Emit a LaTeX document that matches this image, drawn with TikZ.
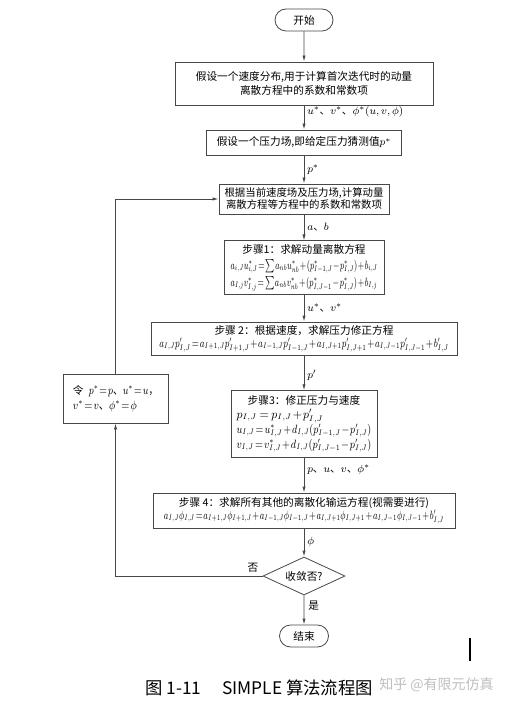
\documentclass[tikz,border=0pt]{standalone}
\usepackage{fontspec}
\newfontfamily\cjk{Noto Sans CJK SC}
\usetikzlibrary{shapes.geometric,shapes.misc,arrows.meta}
\newcommand\zh{\cjk\fontsize{8}{10}\selectfont}
\newcommand\eqn[2]{\resizebox{#1}{\height}{\fontsize{9}{10}\selectfont$\medmuskip=1.5mu\thickmuskip=2mu\thinmuskip=1mu #2$}}
\begin{document}
\begin{tikzpicture}[x=0.75pt,y=-0.75pt,
  ln/.style={draw=black!72,line width=0.6pt},
  arr/.style={ln,-{Latex[length=4.5pt,width=2.4pt]}},
  box/.style={ln,rectangle,inner sep=0pt,align=center,font=\zh},
  pill/.style={ln,rounded rectangle,inner sep=0pt,font=\zh,minimum height=16.5pt},
  lbl/.style={anchor=west,inner sep=0pt,font=\zh}]
\path[use as bounding box,fill=white] (0,0) rectangle (521,705);

\node[pill,minimum width=43.5pt] (start) at (304,20) {开始};
\node[box,minimum width=193.5pt,minimum height=32.25pt] (b1) at (304,83.5)
  {假设一个速度分布,用于计算首次迭代时的动量\\离散方程中的系数和常数项};
\node[box,minimum width=146.25pt,minimum height=18.75pt] (b2) at (304,142.5)
  {假设一个压力场,即给定压力猜测值$p^*$};
\node[box,minimum width=127.5pt,minimum height=22.5pt,font=\cjk\fontsize{7.8}{9}\selectfont] (b3) at (304,199)
  {根据当前速度场及压力场,计算动量\\离散方程等方程中的系数和常数项};
\node[box,minimum width=120pt,minimum height=40pt] (s1) at (304,267.5)
  {步骤1：求解动量离散方程\\[2pt]
   \eqn{110pt}{a_{i,J}u^*_{i,J}=\textstyle\sum a_{nb}u^*_{nb}+(p^*_{I-1,J}-p^*_{I,J})+b_{i,J}}\\[1.5pt]
   \eqn{110pt}{a_{I,j}v^*_{I,j}=\textstyle\sum a_{nb}v^*_{nb}+(p^*_{I,J-1}-p^*_{I,J})+b_{I,j}}};
\node[box,minimum width=229.5pt,minimum height=24.75pt] (s2) at (304,338.5)
  {步骤 2：根据速度，求解压力修正方程\\[0pt]
   \eqn{217pt}{a_{I,J}p'_{I,J}=a_{I+1,J}p'_{I+1,J}+a_{I-1,J}p'_{I-1,J}+a_{I,J+1}p'_{I,J+1}+a_{I,J-1}p'_{I,J-1}+b'_{I,J}}};
\node[box,minimum width=109.5pt,minimum height=50pt] (s3) at (304,424)
  {\begin{tabular}{@{}l@{}}\multicolumn{1}{@{}c@{}}{步骤3：修正压力与速度}\\
   \eqn{65pt}{p_{I,J}\;=\;p_{I,J}+p'_{I,J}}\\[1pt]
   \eqn{101pt}{u_{I,J}=u^*_{I,J}+d_{I,J}(p'_{I-1,J}-p'_{I,J})}\\[1pt]
   \eqn{101pt}{v_{I,J}=v^*_{I,J}+d_{I,J}(p'_{I,J-1}-p'_{I,J})}\end{tabular}};
\node[box,minimum width=226.5pt,minimum height=26.25pt] (s4) at (304,510.5)
  {步骤 4：求解所有其他的离散化输运方程(视需要进行)\\[0pt]
   \eqn{210pt}{a_{I,J}\phi_{I,J}=a_{I+1,J}\phi_{I+1,J}+a_{I-1,J}\phi_{I-1,J}+a_{I,J+1}\phi_{I,J+1}+a_{I,J-1}\phi_{I,J-1}+b'_{I,J}}};
\node[ln,diamond,inner sep=0pt,minimum width=61.5pt,minimum height=28.5pt,aspect=2.16,font=\zh] (dec) at (304,576) {收敛否?};
\node[pill,minimum width=36.75pt] (end) at (304,636) {结束};
\node[box,align=left,minimum width=78.75pt,minimum height=36.75pt,font=\cjk\fontsize{8}{11}\selectfont] (loop) at (115.5,398.5)
  {令\enspace\eqn{52pt}{p^*=p\mbox{、}u^*=u\mbox{，}}\\\eqn{48pt}{v^*=v\mbox{、}\phi^*=\phi}};

\draw[arr] (start) -- (b1);
\draw[arr] (b1) -- (b2);
\draw[arr] (b2) -- (b3);
\draw[arr] (b3) -- (s1);
\draw[arr] (s1) -- (s2);
\draw[arr] (s2) -- (s3);
\draw[arr] (s3) -- (s4);
\draw[arr] (s4) -- (dec);
\draw[arr] (dec) -- (end);
\draw[arr] (dec.west) -| (loop.south);
\draw[arr] (loop.north) |- (b3.west);

\node[lbl] (l1) at (307,112) {$u^*$、$v^*$、$\phi^*(u,v,\phi)$};
\node[lbl] (l2) at (307,170) {$p^*$};
\node[lbl] (l3) at (307,227) {$a$、$b$};
\node[lbl] (l4) at (307,308) {$u^*$、$v^*$};
\node[lbl] (l5) at (307,375) {$p'$};
\node[lbl] (l6) at (307,470) {$p$、$u$、$v$、$\phi^*$};
\node[lbl] (l7) at (307,542) {$\phi$};
\node[lbl] (l8) at (308,606) {是};
\node[lbl,anchor=center] (l9) at (253,568) {否};

\node[anchor=west,inner sep=0pt,font=\cjk\fontsize{13}{15}\selectfont] (cap) at (145,688)
  {图 1-11\hspace{1.2em}SIMPLE 算法流程图};
\node[anchor=west,inner sep=0pt,text=black!25,font=\cjk\fontsize{10.5}{12}\selectfont] (wm) at (379,685)
  {知乎 @有限元仿真};
\draw[line width=1.6pt] (470,638) -- (470,661);
\end{tikzpicture}
\end{document}
